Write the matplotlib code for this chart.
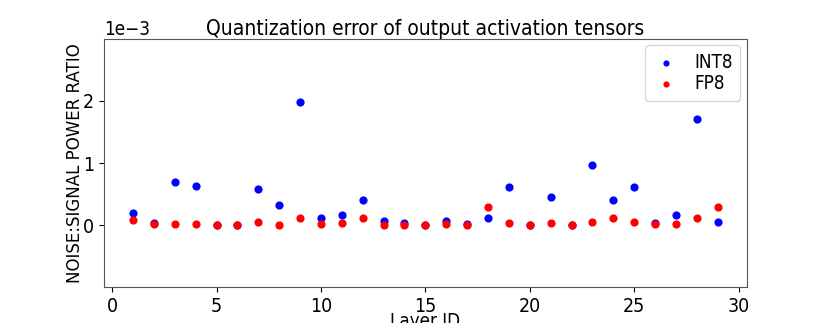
import matplotlib
matplotlib.use("Agg")
import matplotlib.pyplot as plt

plt.rcParams["font.stretch"] = "condensed"

layers = list(range(1, 30))
int8 = [0.204, 0.043, 0.70, 0.63, 0.005, 0.003, 0.59, 0.33, 1.99, 0.12,
        0.17, 0.41, 0.07, 0.04, 0.0, 0.075, 0.015, 0.12, 0.62, 0.0,
        0.45, 0.0, 0.97, 0.41, 0.61, 0.03, 0.17, 1.71, 0.06]
fp8 = [0.09, 0.015, 0.02, 0.02, 0.005, 0.005, 0.045, 0.01, 0.12, 0.02,
       0.03, 0.11, 0.01, 0.0, 0.005, 0.02, 0.0, 0.29, 0.03, 0.0,
       0.03, 0.005, 0.05, 0.11, 0.055, 0.02, 0.02, 0.11, 0.29]
scale = 1e-3

fig, ax = plt.subplots(figsize=(8.3, 3.23), dpi=100)
ax.scatter(layers, [v * scale for v in int8], color="blue", s=24, label="INT8")
ax.scatter(layers, [v * scale for v in fp8], color="red", s=24, label="FP8")
ax.set_ylim(-1e-3, 3e-3)
ax.set_yticks([0, 1e-3, 2e-3])
ax.ticklabel_format(axis="y", style="sci", scilimits=(0, 0))
ax.yaxis.get_offset_text().set_fontsize(13.5)
ax.tick_params(labelsize=14)
ax.set_title("Quantization error of output activation tensors", fontsize=15, pad=3)
ax.set_xlabel("Layer ID", fontsize=13.5, labelpad=-3)
ax.set_ylabel("NOISE:SIGNAL POWER RATIO", fontsize=12, labelpad=-0.5,
              fontstretch="normal")
ax.legend(fontsize=13.5, loc="upper right", markerscale=0.7, handletextpad=0.75,
          handlelength=1.5, labelspacing=0.12, borderaxespad=0.35)
for sp in ax.spines.values():
    sp.set_color("#555555")
fig.savefig("out.png", dpi=100)
